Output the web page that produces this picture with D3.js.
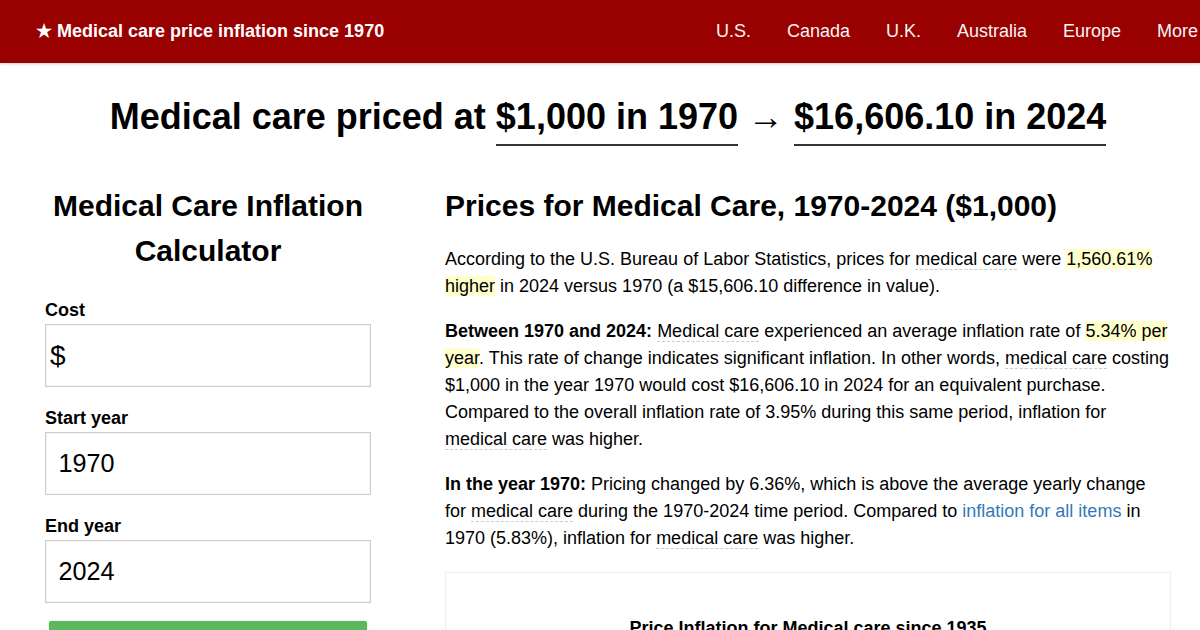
<!DOCTYPE html>
<html>
<head>
<meta charset="utf-8">
<script src="https://cdn.jsdelivr.net/npm/d3@7"></script>
<style>
html, body { margin: 0; padding: 0; width: 1200px; height: 630px; overflow: hidden; background: #fff; }
body { font-family: "Liberation Sans", Arial, sans-serif; color: #000; font-size: 18px; position: relative; }
.navbar { position: absolute; left: 0; top: 0; width: 1200px; height: 63px; background: #990000; box-shadow: 0 1px 3px rgba(0,0,0,0.2); color: #fff; }
.brand { position: absolute; left: 36px; top: 21px; line-height: 21px; font-weight: bold; white-space: nowrap; }
.navlink { position: absolute; top: 21px; line-height: 21px; color: #f5f5f5; white-space: nowrap; }
.headline { position: absolute; left: 0; top: 90px; width: 1216px; text-align: center; font-size: 36px; font-weight: bold; line-height: 54px; white-space: nowrap; }
.headline .val { display: inline-block; border-bottom: 2px solid #333; padding-bottom: 1px; line-height: 52px; }
.headline .arrow { font-weight: normal; }
.side { position: absolute; left: 45px; top: 183px; width: 326px; }
.side h2 { margin: 0 0 24px 0; font-size: 30px; line-height: 45px; text-align: center; }
.side label { display: block; font-weight: bold; line-height: 27px; height: 27px; margin-top: 18px; }
.side .field { box-sizing: border-box; height: 63px; width: 326px; border: 1px solid #ccc; box-shadow: inset 0 0 2px rgba(0,0,0,0.12); font-size: 25.2px; line-height: 61px; white-space: nowrap; }
.button { position: absolute; left: 49px; top: 621px; width: 318px; height: 30px; background: #5cb85c; border-radius: 2px; box-shadow: 0 0 2px rgba(0,0,0,0.15); }
.main { position: absolute; left: 445px; top: 183px; width: 726px; }
.main h2 { margin: 0 0 18px 0; font-size: 30px; line-height: 45px; white-space: nowrap; }
.main p { margin: 0 0 18px 0; line-height: 27px; }
.hl { background: #ffffcc; }
.term { border-bottom: 1px dashed #ccc; }
.link { color: #337ab7; }
.card { position: absolute; left: 445px; top: 572px; width: 724px; height: 200px; border: 1px solid #eee; box-shadow: 0 0 1px rgba(0,0,0,0.05); }
.card .title { position: absolute; left: 0; right: 0; top: 45px; text-align: center; font-weight: bold; font-size: 18px; line-height: 20px; white-space: nowrap; }
</style>
</head>
<body>
<script>
// page text
const brand = "★ Medical care price inflation since 1970";
const navLabels = ["U.S.", "Canada", "U.K.", "Australia", "Europe", "More"];
const navStarts = [716, 787, 886, 957, 1063, 1157];

const headlineParts = [
  ["text", "Medical care priced at "],
  ["val", "$1,000 in 1970"],
  ["arrow", " → "],
  ["val", "$16,606.10 in 2024"]
];

const calcTitle = "Medical Care Inflation Calculator";
const fieldLabels = ["Cost", "Start year", "End year"];
const fieldValues = ["$", "1970", "2024"];

const mainTitle = "Prices for Medical Care, 1970-2024 ($1,000)";

const para1 = [
  ["text", "According to the U.S. Bureau of Labor Statistics, prices for "],
  ["term", "medical care"],
  ["text", " were "],
  ["hl", "1,560.61% higher"],
  ["text", " in 2024 versus 1970 (a $15,606.10 difference in value)."]
];
const para2 = [
  ["bold", "Between 1970 and 2024:"],
  ["text", " "],
  ["term", "Medical care"],
  ["text", " experienced an average inflation rate of "],
  ["hl", "5.34% per year"],
  ["text", ". This rate of change indicates significant inflation. In other words, "],
  ["term", "medical care"],
  ["text", " costing $1,000 in the year 1970 would cost $16,606.10 in 2024 for an equivalent purchase. Compared to the overall inflation rate of 3.95% during this same period, inflation for "],
  ["term", "medical care"],
  ["text", " was higher."]
];
const para3 = [
  ["bold", "In the year 1970:"],
  ["text", " Pricing changed by 6.36%, which is above the average yearly change for "],
  ["term", "medical care"],
  ["text", " during the 1970-2024 time period. Compared to "],
  ["link", "inflation for all items"],
  ["text", " in 1970 (5.83%), inflation for "],
  ["term", "medical care"],
  ["text", " was higher."]
];
const cardTitle = "Price Inflation for Medical care since 1935";

const body = d3.select("body");

// inline runs of text, one span per segment
function addRuns(parent, parts) {
  parent.selectAll("span")
    .data(parts)
    .enter()
    .append("span")
    .attr("class", d => d[0])
    .style("font-weight", d => d[0] === "bold" ? "bold" : null)
    .text(d => d[1]);
}

// navbar
const nav = body.append("div").attr("class", "navbar");
nav.append("div").attr("class", "brand").text(brand);
nav.selectAll(".navlink")
  .data(navLabels)
  .enter()
  .append("div")
  .attr("class", "navlink")
  .style("left", (d, i) => navStarts[i] + "px")
  .text(d => d);

// headline
addRuns(body.append("div").attr("class", "headline"), headlineParts);

// calculator column
const side = body.append("div").attr("class", "side");
side.append("h2").text(calcTitle);
fieldLabels.forEach(function(label, i) {
  side.append("label").style("margin-top", i === 0 ? "0px" : null).text(label);
  side.append("div")
    .attr("class", "field")
    .style("padding-left", i === 0 ? "4px" : "12.5px")
    .style("font-size", i === 0 ? "28px" : null)
    .text(fieldValues[i]);
});
body.append("div").attr("class", "button");

// main column
const main = body.append("div").attr("class", "main");
main.append("h2").text(mainTitle);
[para1, para2, para3].forEach(function(p) {
  addRuns(main.append("p"), p);
});

// start of the chart card, cut off by the window
body.append("div").attr("class", "card")
  .append("div").attr("class", "title").text(cardTitle);
</script>
</body>
</html>
